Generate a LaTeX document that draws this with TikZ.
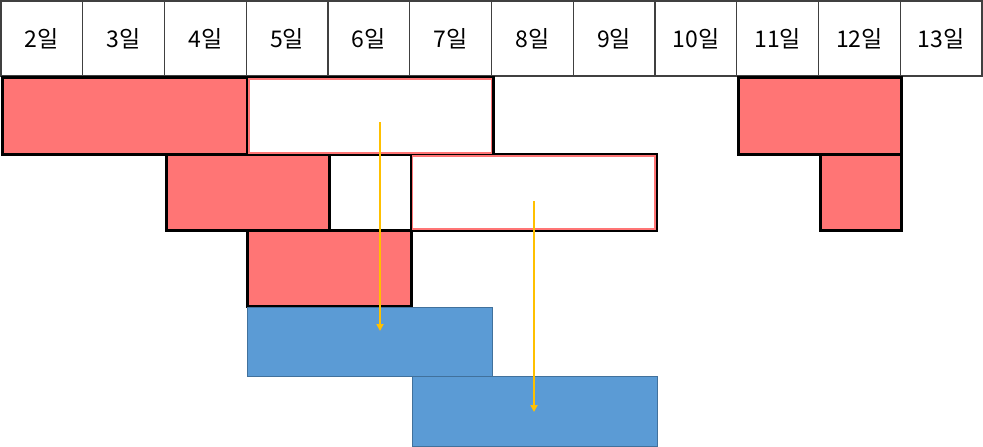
\documentclass[tikz,border=0pt]{standalone}
\usepackage{fontspec}
\newfontfamily\kr{Noto Sans CJK KR}
\usepackage{tikz}
\usetikzlibrary{arrows.meta}
\usetikzlibrary{positioning}
\definecolor{jobred}{RGB}{255,117,117}
\definecolor{jobblue}{RGB}{91,155,213}
\definecolor{jobblueline}{RGB}{65,113,156}
\definecolor{arrowgold}{RGB}{255,192,0}

\tikzset{
  daycell/.style={draw=black!75, line width=1.2pt, minimum width=81.75pt,
    minimum height=75pt, inner sep=0pt, font=\kr\fontsize{23}{25}\selectfont},
  busy/.style={fill=jobred, draw=black, line width=3pt, inner sep=0pt, anchor=north west},
  free/.style={fill=white, draw=black, line width=3pt, inner sep=0pt, anchor=north west},
  slot/.style={fill=jobblue, draw=jobblueline, line width=1pt, inner sep=0pt, anchor=north west},
  freeedge/.style={draw=jobred, line width=1.5pt},
  move/.style={draw=arrowgold, line width=1.8pt, -{Triangle[width=7pt,length=7pt]}}
}

\begin{document}
\begin{tikzpicture}[x=1pt, y=-1pt]
  \useasboundingbox (0,0) rectangle (983,447);

  % header
  \foreach \d [count=\i from 0] in {2,...,13}
    \node[daycell] (d\d) at ({1+81.75*\i+40.875},38.5) {{\d}일};

  % first row
  \node[busy, minimum width=245.25pt, minimum height=77pt] (r1a) at (1,76) {};
  \node[free, minimum width=245.25pt, minimum height=77pt] (r1b) at (246.25,76) {};
  \node[busy, minimum width=163.5pt, minimum height=77pt] (r1c) at (736.75,76) {};

  % second row
  \node[busy, minimum width=163.5pt, minimum height=76pt] (r2a) at (164.5,153) {};
  \node[free, minimum width=81.75pt, minimum height=76pt] (r2b) at (328,153) {};
  \node[free, minimum width=245.25pt, minimum height=76pt] (r2c) at (409.75,153) {};
  \node[busy, minimum width=81.75pt, minimum height=76pt] (r2d) at (818.5,153) {};

  % third row
  \node[busy, minimum width=163.75pt, minimum height=76pt] (r3a) at (246.25,229) {};

  % inner edges of the free slots
  \draw[freeedge] ([shift={(2.8,2.8)}]r1b.north west) rectangle ([shift={(-2.8,-2.8)}]r1b.south east);
  \draw[freeedge] ([shift={(2.8,2.8)}]r2c.north west) rectangle ([shift={(-2.8,-2.8)}]r2c.south east);

  % moved slots
  \node[slot, minimum width=245pt, minimum height=69pt] (b1) at (247,307) {};
  \node[slot, minimum width=245pt, minimum height=70pt] (b2) at (412,376) {};

  \coordinate (s1) at (380,122);
  \coordinate (e1) at (380,331);
  \coordinate (s2) at (534,201);
  \coordinate (e2) at (534,412);
  \draw[move] (s1) -- (e1);
  \draw[move] (s2) -- (e2);
\end{tikzpicture}
\end{document}
